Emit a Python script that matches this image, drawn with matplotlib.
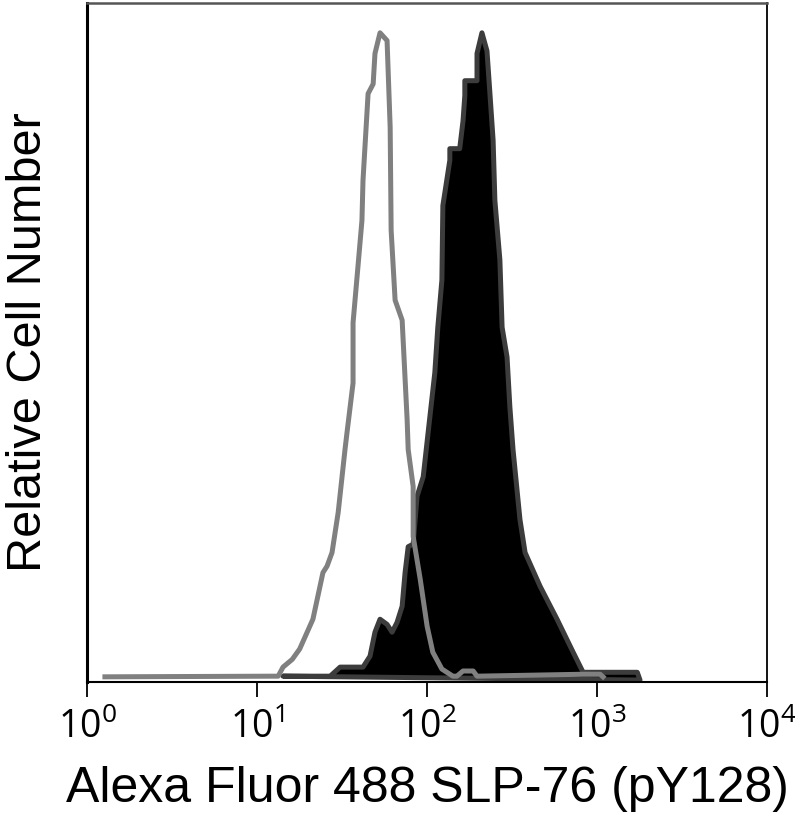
import matplotlib
matplotlib.use("Agg")
import matplotlib.pyplot as plt

# Isotype control (grey outline histogram)
iso_x = [1.27, 12.4, 13.3, 14.2, 16.1, 17.8, 21.3, 24.4, 25.8, 27.6, 30.0, 32.9, 33.8,
         36.7, 36.7, 39.2, 41.4, 42.0, 45.0, 48.2, 49.4, 52.9,
         58.2, 60.7, 61.5, 64.9, 71.4, 76.4, 77.5, 82.9, 82.9, 91.2, 100.2, 108.2,
         122.4, 142, 150, 163, 187, 197, 830, 1045, 1087]
iso_y = [0.5, 0.6, 0.6, 2.0, 3.2, 4.8, 9.4, 16.6, 17.6, 19.7, 25.9, 35.6, 38.2,
         45.9, 55.2, 63.8, 71.0, 77.2, 90.6, 92.1, 96.8, 100,
         98.8, 85.4, 69.5, 58.7, 55.6, 40.2, 35.6, 29.9, 22.2, 15.6, 8.3, 4.3,
         1.7, 0.6, 0.6, 1.4, 1.4, 0.6, 0.9, 0.9, 0.5]

# SLP-76 (pY128) stained (black filled histogram)
stain_x = [14.2, 26.9, 30.8, 42.0, 46.2, 49.4, 52.9, 58.2, 62.3, 66.6, 71.4, 74.3,
           77.5, 82.9, 87.4, 95.0, 101.5, 111.2, 115.8, 122.4, 124, 136.3, 136.3,
           155.8, 163, 167, 167, 197, 197, 210.6,
           225.5, 234.7, 245, 251, 268.6, 276.8, 296, 307.5, 321, 352.6, 378,
           463, 583, 725, 830, 1045, 1730, 1795]
stain_y = [0.6, 0.6, 2.0, 2.0, 3.7, 7.4, 9.4, 8.6, 7.4, 8.9, 11.4, 16.6,
           20.6, 21.0, 28.4, 31.4, 38.2, 47.5, 54.5, 61.8, 73.3, 80.3, 82.1,
           82.1, 86.4, 90.3, 92.6, 92.6, 96.8, 100,
           97.2, 90.6, 83.4, 74.1, 64.9, 54.5, 49.9, 42.2, 35.6, 24.8, 19.7,
           14.5, 9.4, 4.3, 1.2, 1.2, 1.2, 0.0]

xticks = [1, 10, 100, 1000, 10000]
xtick_labels = [r'$\mathregular{10^{0}}$', r'$\mathregular{10^{1}}$', r'$\mathregular{10^{2}}$',
                r'$\mathregular{10^{3}}$', r'$\mathregular{10^{4}}$']

plt.rcParams['mathtext.fontset'] = 'custom'
plt.rcParams['mathtext.rm'] = 'Open Sans'
plt.rcParams['mathtext.it'] = 'Open Sans:italic'
plt.rcParams['mathtext.bf'] = 'Open Sans:bold'

fig = plt.figure(figsize=(7.95, 8.21), dpi=100)
ax = fig.add_axes([0.1098, 0.1693, 0.9644 - 0.1098, 0.9963 - 0.1693])

ax.fill(stain_x, stain_y, facecolor='black', edgecolor='#3c3c3c', linewidth=3.6,
        joinstyle='round', zorder=2)
ax.plot(iso_x, iso_y, color='#808080', linewidth=3.6, zorder=3, solid_joinstyle='round')

ax.set_xscale('log')
ax.set_xlim(1, 10000)
ax.set_ylim(-0.3, 104.6)
ax.set_xticks(xticks)
ax.set_xticklabels(xtick_labels, fontsize=27, family='Open Sans')
ax.minorticks_off()
ax.set_yticks([])
ax.tick_params(axis='x', direction='out', length=11, width=1.3, pad=8, color='black')

for side in ['left', 'right', 'bottom']:
    ax.spines[side].set_color('black')
ax.spines['left'].set_linewidth(2.2)
ax.spines['bottom'].set_linewidth(1.5)
ax.spines['right'].set_linewidth(1.3)
ax.spines['top'].set_linewidth(1.8)
ax.spines['top'].set_color('#555555')

ax.set_xlabel('Alexa Fluor 488 SLP-76 (pY128)', fontsize=36, family='Liberation Sans', labelpad=14)
ax.set_ylabel('Relative Cell Number', fontsize=35, family='Liberation Sans', labelpad=26)

fig.savefig('out.png', dpi=100)
